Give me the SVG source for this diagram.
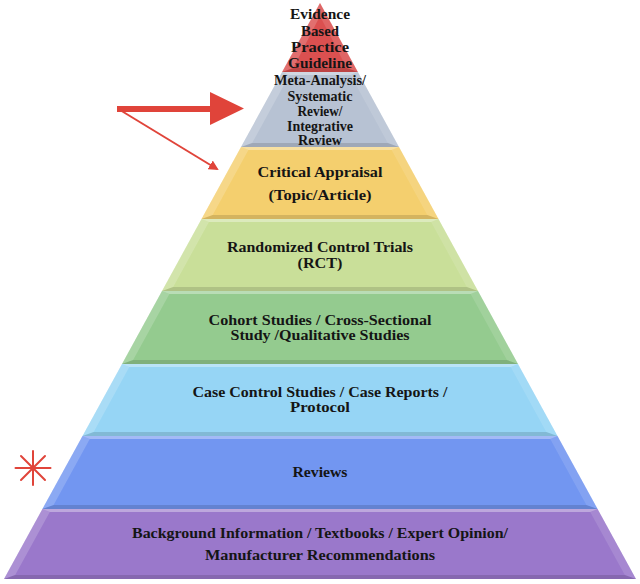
<svg xmlns="http://www.w3.org/2000/svg" width="640" height="584" viewBox="0 0 640 584">
<style>
.hl{fill:#ffffff;opacity:0.35}
.sd{fill:#ffffff;opacity:0.18}
.sr{fill:#ffffff;opacity:0.12}
.bt{fill:#000000;opacity:0.13}
text{font-family:"Liberation Serif","Times New Roman",serif;font-weight:bold;fill:#151515;text-anchor:middle}
.t15{font-size:15.5px}
.t13{font-size:14px}
.t14{font-size:14.5px}
.arr{fill:#e0443a}
</style>
<defs>
<marker id="ah" markerWidth="10" markerHeight="10" refX="8" refY="5" orient="auto" markerUnits="userSpaceOnUse">
<path d="M0,0 L10,5 L0,10 Z" fill="#e0443a"/>
</marker>
</defs>
<rect width="640" height="584" fill="#ffffff"/>

<g id="layer-purple">
<polygon points="42.4,509 597.6,509 636,579 4,579" fill="#9a78cb"/>
<polygon class="hl" points="42.4,509 597.6,509 590.2,512 49.8,512"/>
<polygon class="sd" points="42.4,509 49.8,512 15.2,575 4,579"/>
<polygon class="sr" points="597.6,509 636,579 624.8,575 590.2,512"/>
<polygon class="bt" points="4,579 15.2,575 624.8,575 636,579"/>
<text class="t14" x="320" y="538" textLength="376" lengthAdjust="spacingAndGlyphs">Background Information / Textbooks / Expert Opinion/</text>
<text class="t14" x="320" y="560" textLength="230" lengthAdjust="spacingAndGlyphs">Manufacturer Recommendations</text>
</g>

<g id="layer-blue">
<polygon points="82.5,436 557.5,436 597.6,509 42.4,509" fill="#7296f1"/>
<polygon class="hl" points="82.5,436 557.5,436 550.2,439 89.8,439"/>
<polygon class="sd" points="82.5,436 89.8,439 53.6,505 42.4,509"/>
<polygon class="sr" points="557.5,436 597.6,509 586.4,505 550.2,439"/>
<polygon class="bt" points="42.4,509 53.6,505 586.4,505 597.6,509"/>
<text class="t14" x="320" y="477" textLength="55" lengthAdjust="spacingAndGlyphs">Reviews</text>
</g>

<g id="layer-lightblue">
<polygon points="122,364 518,364 557.5,436 82.5,436" fill="#96d5f5"/>
<polygon class="hl" points="122,364 518,364 510.7,367 129.3,367"/>
<polygon class="sd" points="122,364 129.3,367 93.7,432 82.5,436"/>
<polygon class="sr" points="518,364 557.5,436 546.3,432 510.7,367"/>
<polygon class="bt" points="82.5,436 93.7,432 546.3,432 557.5,436"/>
<text class="t14" x="320" y="397" textLength="255" lengthAdjust="spacingAndGlyphs">Case Control Studies / Case Reports /</text>
<text class="t14" x="320" y="412" textLength="60" lengthAdjust="spacingAndGlyphs">Protocol</text>
</g>

<g id="layer-green">
<polygon points="162,291 478,291 518,364 122,364" fill="#94cb8f"/>
<polygon class="hl" points="162,291 478,291 470.6,294 169.4,294"/>
<polygon class="sd" points="162,291 169.4,294 133.1,360 122,364"/>
<polygon class="sr" points="478,291 518,364 506.9,360 470.6,294"/>
<polygon class="bt" points="122,364 133.1,360 506.9,360 518,364"/>
<text class="t14" x="320" y="325" textLength="223" lengthAdjust="spacingAndGlyphs">Cohort Studies / Cross-Sectional</text>
<text class="t14" x="320" y="340" textLength="179" lengthAdjust="spacingAndGlyphs">Study /Qualitative Studies</text>
</g>

<g id="layer-lightgreen">
<polygon points="201.5,219 438.5,219 478,291 162,291" fill="#c9df99"/>
<polygon class="hl" points="201.5,219 438.5,219 431.1,222 208.9,222"/>
<polygon class="sd" points="201.5,219 208.9,222 173.2,287 162,291"/>
<polygon class="sr" points="438.5,219 478,291 466.8,287 431.1,222"/>
<polygon class="bt" points="162,291 173.2,287 466.8,287 478,291"/>
<text class="t14" x="320" y="252" textLength="186" lengthAdjust="spacingAndGlyphs">Randomized Control Trials</text>
<text class="t14" x="320" y="268" textLength="45" lengthAdjust="spacingAndGlyphs">(RCT)</text>
</g>

<g id="layer-yellow">
<polygon points="241,147 399,147 438.5,219 201.5,219" fill="#f4cf6e"/>
<polygon class="hl" points="241,147 399,147 391.6,150 248.4,150"/>
<polygon class="sd" points="241,147 248.4,150 212.7,215 201.5,219"/>
<polygon class="sr" points="399,147 438.5,219 427.3,215 391.6,150"/>
<polygon class="bt" points="201.5,219 212.7,215 427.3,215 438.5,219"/>
<text class="t14" x="320" y="177" textLength="125" lengthAdjust="spacingAndGlyphs">Critical Appraisal</text>
<text class="t14" x="320" y="200" textLength="103" lengthAdjust="spacingAndGlyphs">(Topic/Article)</text>
</g>

<g id="layer-gray">
<polygon points="282.1,72 357.9,72 399,147 241,147" fill="#b7c2d3"/>
<polygon class="hl" points="282.1,72 357.9,72 350.5,75 289.5,75"/>
<polygon class="sd" points="282.1,72 289.5,75 252.2,143 241,147"/>
<polygon class="sr" points="357.9,72 399,147 387.8,143 350.5,75"/>
<polygon class="bt" points="241,147 252.2,143 387.8,143 399,147"/>
<text class="t13" x="320" y="85" textLength="92" lengthAdjust="spacingAndGlyphs">Meta-Analysis/</text>
<text class="t13" x="320" y="101" textLength="65" lengthAdjust="spacingAndGlyphs">Systematic</text>
<text class="t13" x="320" y="116" textLength="45" lengthAdjust="spacingAndGlyphs">Review/</text>
<text class="t13" x="320" y="131" textLength="66" lengthAdjust="spacingAndGlyphs">Integrative</text>
<text class="t13" x="320" y="145" textLength="44" lengthAdjust="spacingAndGlyphs">Review</text>
</g>

<g id="layer-red">
<polygon points="320,3 357.9,72 282.1,72" fill="#db5050"/>
<polygon class="sd" points="320,3 320,16 293.3,68 282.1,72"/>
<polygon class="sr" points="320,3 357.9,72 346.7,68 320,16"/>
<polygon class="bt" points="282.1,72 293.3,68 346.7,68 357.9,72"/>
<text class="t15" x="320" y="19" textLength="60" lengthAdjust="spacingAndGlyphs">Evidence</text>
<text class="t15" x="320" y="36" textLength="38" lengthAdjust="spacingAndGlyphs">Based</text>
<text class="t15" x="320" y="52" textLength="58" lengthAdjust="spacingAndGlyphs">Practice</text>
<text class="t15" x="320" y="68" textLength="64" lengthAdjust="spacingAndGlyphs">Guideline</text>
</g>

<g id="connectors">
<polygon class="arr" points="117,106 210,106 210,92 244,108.5 210,125 210,112 117,112"/>
<line x1="120" y1="110" x2="217" y2="169" stroke="#e0443a" stroke-width="2" marker-end="url(#ah)"/>
</g>

<g id="asterisk" stroke="#e0443a" stroke-width="2" stroke-linecap="round">
<line x1="33" y1="451" x2="33" y2="485"/>
<line x1="15.5" y1="468" x2="50.5" y2="468"/>
<line x1="21" y1="456" x2="45" y2="480"/>
<line x1="45" y1="456" x2="21" y2="480"/>
</g>
</svg>
